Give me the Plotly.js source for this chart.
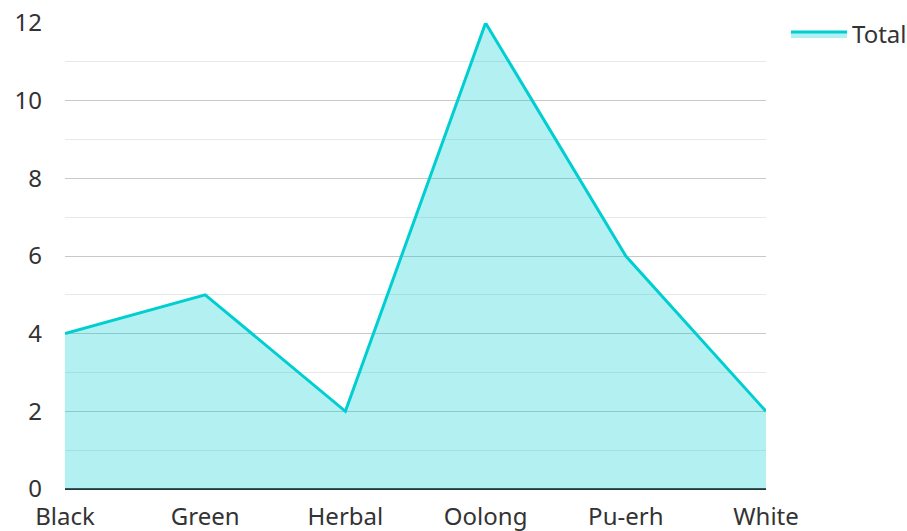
<!DOCTYPE html>
<html>
<head>
<meta charset="utf-8">
<script src="https://cdn.plot.ly/plotly-3.0.1.min.js"></script>
<style>html,body{margin:0;padding:0;background:#fff;}#chart{width:907px;height:531px;}</style>
</head>
<body>
<div id="chart"></div>
<script>
const categories = ["Black", "Green", "Herbal", "Oolong", "Pu-erh", "White"];
const totals = [4, 5, 2, 12, 6, 2];
const seriesName = "Total";

const trace = {
  x: categories,
  y: totals,
  name: seriesName,
  type: "scatter",
  mode: "lines",
  fill: "tozeroy",
  line: {color: "#00CED1", width: 3},
  fillcolor: "rgba(0,206,209,0.3)",
  showlegend: true
};

const layout = {
  width: 907,
  height: 531,
  margin: {l: 65, r: 141, t: 23, b: 42, autoexpand: false},
  paper_bgcolor: "#fff",
  plot_bgcolor: "#fff",
  font: {family: "Noto Sans, Open Sans, sans-serif", size: 24, color: "#333"},
  showlegend: true,
  legend: {x: 1.0285, y: 1.024, xanchor: "left", yanchor: "top", itemwidth: 56, font: {size: 24, color: "#333"}},
  xaxis: {
    type: "category",
    range: [0, 5],
    showgrid: false,
    zeroline: false,
    showline: false,
    ticks: "",
    ticklabelstandoff: 11,
    tickfont: {size: 24, color: "#333"}
  },
  yaxis: {
    range: [0, 12],
    dtick: 2,
    tick0: 0,
    showgrid: true,
    gridcolor: "#c8c8c8",
    gridwidth: 1,
    zeroline: true,
    zerolinecolor: "#333",
    zerolinewidth: 2,
    ticks: "",
    tickfont: {size: 24, color: "#333"},
    ticklabelstandoff: 22,
    minor: {dtick: 1, showgrid: true, gridcolor: "#e8e8e8", gridwidth: 1}
  }
};

Plotly.newPlot("chart", [trace], layout, {displayModeBar: false, staticPlot: true});
</script>
</body>
</html>
